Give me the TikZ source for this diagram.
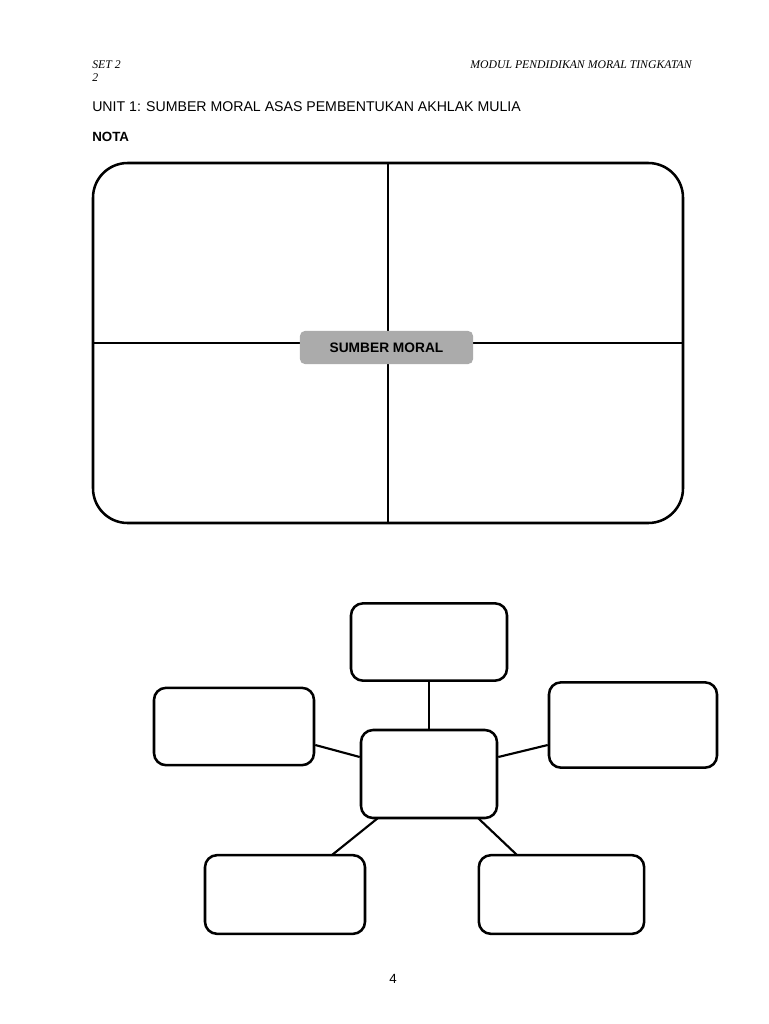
\documentclass[tikz,border=0pt]{standalone}
\usepackage{fontspec}
\setmainfont{Liberation Sans}
\newfontfamily\hdrfont{Liberation Serif}
\begin{document}
\begin{tikzpicture}[x=0.75pt,y=-0.75pt,
  frame/.style={draw=black,line width=1.9pt,rounded corners=26pt},
  divline/.style={draw=black,line width=1.6pt},
  mapbox/.style={draw=black,line width=1.9pt,rounded corners=9pt,minimum width=0pt},
  link/.style={draw=black,line width=1.6pt},
  hdr/.style={font=\hdrfont\itshape\fontsize{8.8}{10}\selectfont,inner sep=0pt,anchor=base west},
  core/.style={fill=black!33,rounded corners=4pt,font=\bfseries\fontsize{10.3}{12}\selectfont,inner sep=0pt}
]
\useasboundingbox (0,0) rectangle (768,1024);
% header
\node[hdr] (set) at (92,69) {SET 2};
\node[hdr] (set2) at (92,81) {2};
\node[hdr,anchor=base east] (modul) at (692,69) {MODUL PENDIDIKAN MORAL TINGKATAN};
\node[font=\fontsize{10.6}{12}\selectfont,inner sep=0pt,anchor=base west] (unit) at (92,111) {UNIT 1: SUMBER MORAL ASAS PEMBENTUKAN AKHLAK MULIA};
\node[font=\bfseries\fontsize{10}{12}\selectfont,inner sep=0pt,anchor=base west] (nota) at (92,142) {NOTA};
% big frame
\draw[frame] (93,163) rectangle (683,523);
\coordinate (ftop) at (388,163);
\coordinate (fbot) at (388,523);
\coordinate (fleft) at (93,343);
\coordinate (fright) at (683,343);
\draw[divline] (ftop) -- (fbot);
\draw[divline] (fleft) -- (fright);
\node[core,minimum width=130pt,minimum height=25pt] (sumber) at (386.5,347.5) {SUMBER MORAL};
% mind map
\node[mapbox,minimum width=117pt,minimum height=58pt] (top) at (429,642) {};
\node[mapbox,minimum width=120pt,minimum height=58pt] (left) at (234,726.5) {};
\node[mapbox,minimum width=126pt,minimum height=64pt] (right) at (633,725) {};
\node[mapbox,minimum width=102pt,minimum height=66pt] (center) at (429,774) {};
\node[mapbox,minimum width=120pt,minimum height=59pt] (bl) at (285,894.5) {};
\node[mapbox,minimum width=124pt,minimum height=59pt] (br) at (561.5,894.5) {};
\draw[link] (top.south) -- (center.north);
\draw[link] (left.east |- 0,745) -- (center.west |- 0,757);
\draw[link] (center.east |- 0,757) -- (right.west |- 0,745);
\draw[link] (378,818) -- (332,855);
\draw[link] (478,818) -- (517,855);
% page number
\node[font=\fontsize{10}{12}\selectfont,inner sep=0pt] (page) at (393,979) {4};
\end{tikzpicture}
\end{document}
